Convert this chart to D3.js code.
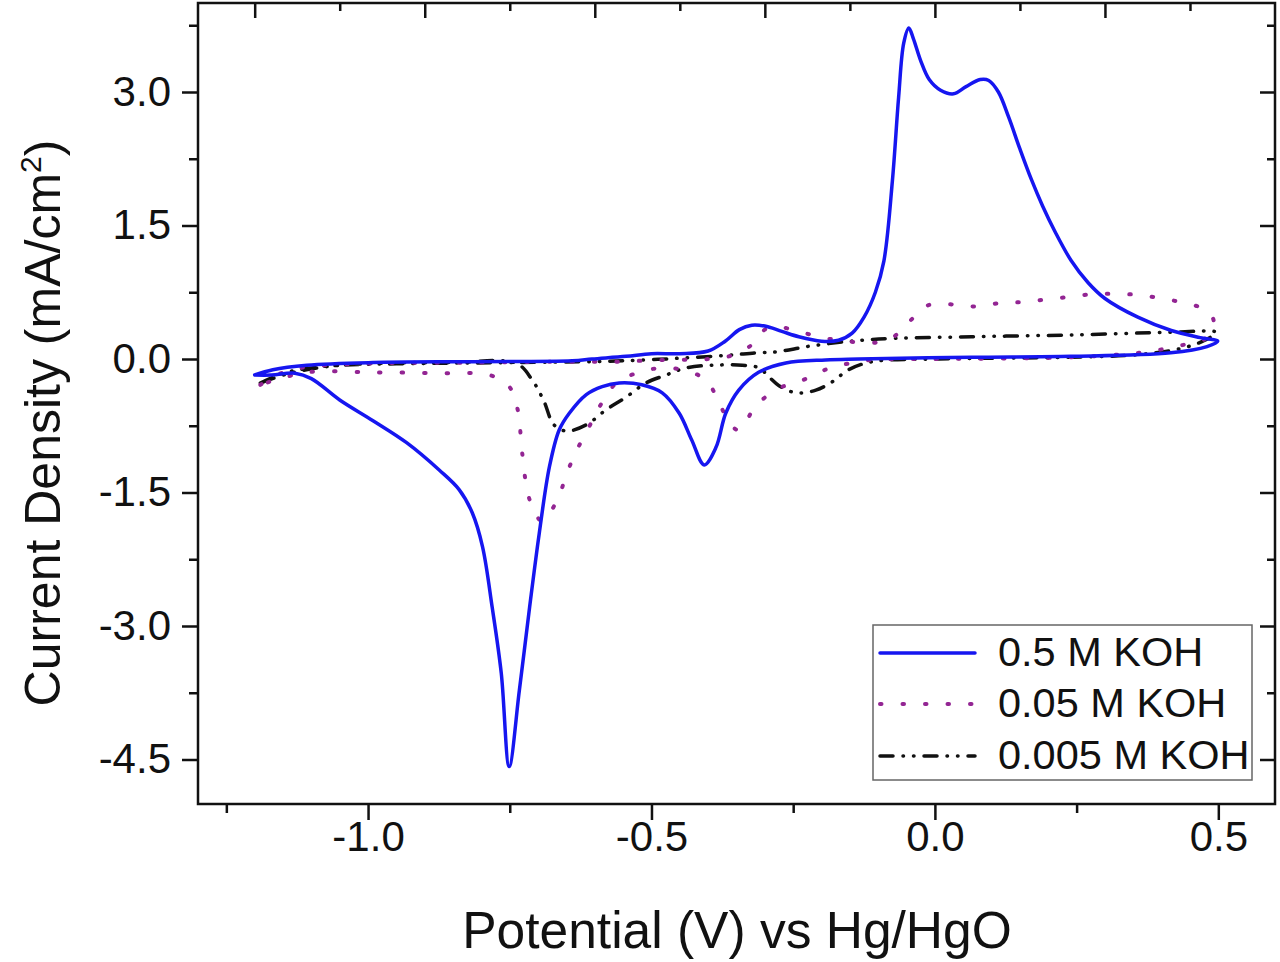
<!DOCTYPE html>
<html>
<head>
<meta charset="utf-8">
<script src="https://cdn.jsdelivr.net/npm/d3@7"></script>
<style>
  html, body { margin: 0; padding: 0; background: #fff; }
  svg { display: block; }
  text { font-family: "Liberation Sans", Arial, sans-serif; fill: #111; }
</style>
</head>
<body>
<svg id="chart" width="1280" height="962"></svg>
<script>
// ---- Data (Potential V vs Hg/HgO, Current Density mA/cm^2) ----
const seriesNames = ["0.5 M KOH", "0.05 M KOH", "0.005 M KOH"];

const koh05_E = [-1.2,-1.168,-1.108,-0.992,-0.816,-0.64,-0.605,-0.545,-0.5,-0.45,-0.4,-0.37,-0.345,-0.323,-0.3,-0.27,-0.24,-0.2,-0.17,-0.146,-0.125,-0.105,-0.09,-0.075,-0.064,-0.055,-0.046,-0.038,-0.025,-0.01,0.01,0.033,0.055,0.08,0.095,0.112,0.13,0.15,0.17,0.19,0.212,0.24,0.27,0.3,0.358,0.417,0.468,0.499,
  0.48,0.416,0.24,0.065,-0.135,-0.193,-0.263,-0.311,-0.346,-0.369,-0.386,-0.407,-0.429,-0.451,-0.481,-0.517,-0.557,-0.587,-0.615,-0.645,-0.663,-0.68,-0.698,-0.715,-0.733,-0.751,-0.765,-0.781,-0.798,-0.816,-0.839,-0.874,-0.932,-0.992,-1.05,-1.1,-1.129,-1.17,-1.2];
const koh05_J = [-0.18,-0.12,-0.07,-0.04,-0.03,-0.02,0.0,0.03,0.06,0.06,0.09,0.2,0.33,0.38,0.37,0.31,0.25,0.2,0.21,0.29,0.47,0.75,1.1,2.0,2.94,3.55,3.72,3.6,3.35,3.14,3.02,2.98,3.06,3.14,3.13,3.0,2.72,2.36,2.02,1.72,1.43,1.11,0.86,0.68,0.47,0.32,0.24,0.2,
  0.14,0.07,0.03,0.02,0.0,-0.01,-0.045,-0.15,-0.35,-0.61,-0.99,-1.19,-0.91,-0.61,-0.38,-0.29,-0.27,-0.31,-0.4,-0.61,-0.8,-1.21,-1.96,-2.79,-3.72,-4.58,-3.53,-2.79,-2.11,-1.73,-1.47,-1.25,-0.94,-0.69,-0.46,-0.22,-0.16,-0.18,-0.18];

const koh005_E = [-1.19,-1.15,-1.108,-0.992,-0.816,-0.64,-0.562,-0.48,-0.4,-0.358,-0.323,-0.3,-0.278,-0.24,-0.2,-0.164,-0.12,-0.08,-0.042,-0.02,0.0,0.037,0.075,0.115,0.157,0.197,0.24,0.28,0.32,0.36,0.4,0.44,0.478,0.492,
  0.475,0.446,0.41,0.36,0.24,0.007,-0.11,-0.152,-0.193,-0.234,-0.275,-0.315,-0.335,-0.346,-0.36,-0.381,-0.403,-0.44,-0.481,-0.522,-0.562,-0.592,-0.613,-0.633,-0.649,-0.666,-0.693,-0.715,-0.728,-0.736,-0.751,-0.786,-0.874,-0.992,-1.108,-1.19];
const koh005_J = [-0.29,-0.15,-0.09,-0.05,-0.04,-0.03,-0.03,-0.01,0.0,0.04,0.16,0.33,0.36,0.31,0.24,0.21,0.18,0.22,0.44,0.58,0.62,0.61,0.59,0.63,0.64,0.67,0.7,0.73,0.73,0.72,0.68,0.63,0.55,0.42,
  0.22,0.17,0.12,0.07,0.02,0.0,-0.01,-0.05,-0.12,-0.24,-0.33,-0.52,-0.72,-0.8,-0.74,-0.49,-0.24,-0.13,-0.1,-0.15,-0.27,-0.54,-0.8,-1.04,-1.28,-1.58,-1.82,-1.58,-1.06,-0.57,-0.31,-0.18,-0.16,-0.15,-0.15,-0.29];

const koh0005_E = [-1.19,-1.15,-1.1,-1.05,-0.9,-0.74,-0.55,-0.37,-0.315,-0.28,-0.215,-0.11,0.065,0.24,0.416,0.496,
  0.476,0.435,0.36,0.24,0.007,-0.11,-0.152,-0.182,-0.21,-0.245,-0.275,-0.293,-0.31,-0.34,-0.393,-0.439,-0.474,-0.51,-0.545,-0.58,-0.615,-0.65,-0.672,-0.69,-0.71,-0.738,-0.85,-1.05,-1.138,-1.19];
const koh0005_J = [-0.27,-0.16,-0.1,-0.07,-0.05,-0.04,-0.02,0.04,0.07,0.08,0.15,0.22,0.25,0.27,0.3,0.3,
  0.21,0.12,0.05,0.02,0.0,-0.03,-0.12,-0.26,-0.35,-0.38,-0.3,-0.2,-0.1,-0.07,-0.07,-0.1,-0.18,-0.27,-0.43,-0.57,-0.74,-0.81,-0.74,-0.47,-0.24,-0.05,-0.04,-0.07,-0.16,-0.27];

const xTicks = [-1.0, -0.5, 0.0, 0.5];
const xMinorTicks = [-1.25, -0.75, -0.25, 0.25];
const topTicks = [-1.2, -0.9, -0.6, -0.3, 0.0, 0.3];
const topMinorTicks = [-1.05, -0.75, -0.45, -0.15, 0.15, 0.45];
const yTicks = [-4.5, -3.0, -1.5, 0.0, 1.5, 3.0];
const yMinorTicks = [-3.75, -2.25, -0.75, 0.75, 2.25, 3.75];
const xLabel = "Potential (V) vs Hg/HgO";
const yLabel = "Current Density (mA/cm";

// ---- Layout ----
const L = 198, R = 1275, T = 3, B = 804;
const svg = d3.select("#chart");
const x = d3.scaleLinear().domain([-1.3, 0.6]).range([L, R]);
const y = d3.scaleLinear().domain([-5.0, 4.0]).range([B, T]);

const series = [
  {name: seriesNames[0], E: koh05_E, J: koh05_J, color: "#1616f0", width: 3.5, dash: null, cap: "round"},
  {name: seriesNames[1], E: koh005_E, J: koh005_J, color: "#932593", width: 4, dash: "1.5,21", cap: "round"},
  {name: seriesNames[2], E: koh0005_E, J: koh0005_J, color: "#111", width: 3.5, dash: "13,10,0.5,10,0.5,10", cap: "round"}
];

const line = d3.line().x(d => x(d[0])).y(d => y(d[1])).curve(d3.curveCatmullRom.alpha(0.5));

const g = svg.append("g");
[series[2], series[1], series[0]].forEach(s => {
  const pts = s.E.map((e, i) => [e, s.J[i]]);
  g.append("path").attr("d", line(pts)).attr("fill", "none")
    .attr("stroke", s.color).attr("stroke-width", s.width)
    .attr("stroke-dasharray", s.dash).attr("stroke-linecap", s.cap)
    .attr("stroke-linejoin", "round");
});

// ---- Axes ----
const fmt = v => d3.format(".1f")(v).replace("\u2212", "-");
const bottomAxis = d3.axisBottom(x).tickValues(xTicks).tickSize(16).tickFormat(fmt).tickPadding(1);
const bottomMinor = d3.axisBottom(x).tickValues(xMinorTicks).tickSize(9).tickFormat("");
const leftAxis = d3.axisLeft(y).tickValues(yTicks).tickSize(16).tickFormat(fmt).tickPadding(11);
const leftMinor = d3.axisLeft(y).tickValues(yMinorTicks).tickSize(9).tickFormat("");
const topAxis = d3.axisTop(x).tickValues(topTicks).tickSize(-15).tickFormat("");
const topMinor = d3.axisTop(x).tickValues(topMinorTicks).tickSize(-8).tickFormat("");
const rightAxis = d3.axisRight(y).tickValues(yTicks).tickSize(-15).tickFormat("");
const rightMinor = d3.axisRight(y).tickValues(yMinorTicks).tickSize(-8).tickFormat("");

function style(sel) {
  sel.select(".domain").remove();
  sel.selectAll("line").attr("stroke", "#111").attr("stroke-width", 2.5);
  sel.selectAll("text").style("font-family", "'Liberation Sans', Arial, sans-serif")
    .style("font-size", "42px").attr("fill", "#111");
}
svg.append("g").attr("transform", `translate(0,${B})`).call(bottomAxis).call(style);
svg.append("g").attr("transform", `translate(0,${B})`).call(bottomMinor).call(style);
svg.append("g").attr("transform", `translate(${L},0)`).call(leftAxis).call(style);
svg.append("g").attr("transform", `translate(${L},0)`).call(leftMinor).call(style);
svg.append("g").attr("transform", `translate(0,${T})`).call(topAxis).call(style);
svg.append("g").attr("transform", `translate(0,${T})`).call(topMinor).call(style);
svg.append("g").attr("transform", `translate(${R},0)`).call(rightAxis).call(style);
svg.append("g").attr("transform", `translate(${R},0)`).call(rightMinor).call(style);

// frame
svg.append("rect").attr("x", L).attr("y", T).attr("width", R - L).attr("height", B - T)
  .attr("fill", "none").attr("stroke", "#111").attr("stroke-width", 2.5);

// ---- Axis titles ----
svg.append("text").attr("x", 737).attr("y", 948).attr("text-anchor", "middle")
  .style("font-size", "51.5px").text(xLabel);

const yt = svg.append("text").attr("transform", "translate(60,423) rotate(-90)")
  .attr("text-anchor", "middle").style("font-size", "50px");
yt.append("tspan").text(yLabel);
yt.append("tspan").attr("dy", -19).style("font-size", "30px").text("2");
yt.append("tspan").attr("dy", 19).text(")");

// ---- Legend ----
const lg = svg.append("g");
lg.append("rect").attr("x", 873).attr("y", 625).attr("width", 379).attr("height", 155)
  .attr("fill", "#fff").attr("stroke", "#666").attr("stroke-width", 1.5);
const rowsY = [653, 704, 756];
series.forEach((s, i) => {
  lg.append("line").attr("x1", 880).attr("x2", 975).attr("y1", rowsY[i]).attr("y2", rowsY[i])
    .attr("stroke", s.color).attr("stroke-width", s.width)
    .attr("stroke-dasharray", s.dash).attr("stroke-linecap", s.cap);
  lg.append("text").attr("x", 998).attr("y", rowsY[i] + 13).style("font-size", "41.5px").text(s.name);
});
</script>
</body>
</html>
